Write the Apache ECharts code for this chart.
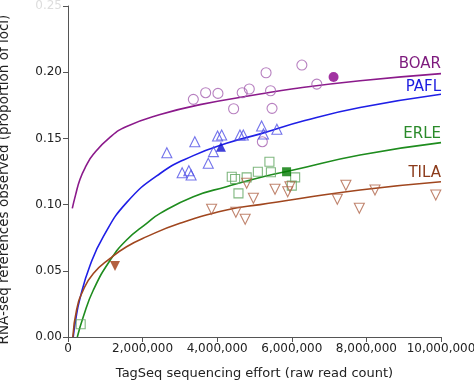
<!DOCTYPE html>
<html lang="en">
<head>
    <meta charset="utf-8" />
    <title>TagSeq rarefaction</title>
    <style>
        html, body { margin: 0; padding: 0; background: #fff; }
    </style>
</head>
<body>
    <div id="main" style="width:474px;height:389px;"></div>
    <script src="https://cdn.jsdelivr.net/npm/echarts@6/dist/echarts.min.js"></script>
    <script>
        // axis ticks
        var xTicks = [0, 2000000, 4000000, 6000000, 8000000, 10000000];
        var yTicks = [0, 0.05, 0.10, 0.15, 0.20, 0.25];

        // observed points (raw read count, proportion of loci)
        var boarPoints = [
            [3360000, 0.1795], [3690000, 0.1845], [4020000, 0.184], [4440000, 0.1724],
            [4670000, 0.1845], [4860000, 0.1873], [5310000, 0.1996], [6270000, 0.2054],
            [5430000, 0.186], [6670000, 0.191], [5470000, 0.1727], [5210000, 0.1475]
        ];
        var boarMean = [[7120000, 0.1964]];

        var paflPoints = [
            [2650000, 0.1392], [3400000, 0.1475], [4010000, 0.1518], [4120000, 0.1526],
            [3900000, 0.140], [3760000, 0.1312], [3060000, 0.1241], [3240000, 0.1256],
            [3300000, 0.1224], [4610000, 0.1526], [4700000, 0.1526], [5190000, 0.1594],
            [5240000, 0.1533], [5600000, 0.1569]
        ];
        var paflMean = [[4100000, 0.1437]];

        var erlePoints = [
            [340000, 0.0096], [4390000, 0.121], [4480000, 0.1193], [4790000, 0.1206],
            [4570000, 0.1085], [5090000, 0.1248], [5400000, 0.1324], [5440000, 0.1244],
            [6090000, 0.1206], [6000000, 0.1143]
        ];
        var erleMean = [[5860000, 0.1248]];

        var tilaPoints = [
            [3850000, 0.0965], [4500000, 0.0942], [4750000, 0.0889], [4790000, 0.1161],
            [4970000, 0.1048], [5550000, 0.1116], [5890000, 0.1097], [5950000, 0.1135],
            [7220000, 0.104], [7450000, 0.1146], [7810000, 0.0972], [8230000, 0.111],
            [9860000, 0.1073]
        ];
        var tilaMean = [[1260000, 0.0536]];

        // fitted curves
        var boarCurve = [
            [115000, 0.0972], [200000, 0.107], [320000, 0.119], [480000, 0.129], [680000, 0.138],
            [1130000, 0.151], [1570000, 0.159], [2470000, 0.168], [3540000, 0.1755],
            [5150000, 0.1835], [6040000, 0.1875], [7830000, 0.1935], [10000000, 0.1989]
        ];
        var paflCurve = [
            [140000, 0.0], [200000, 0.012], [320000, 0.029], [590000, 0.054], [950000, 0.076],
            [1570000, 0.1015], [2470000, 0.1235], [3360000, 0.137], [4250000, 0.1463],
            [5200000, 0.1538], [6350000, 0.1635], [7830000, 0.1733], [10000000, 0.1833]
        ];
        var erleCurve = [
            [250000, 0.0], [410000, 0.0153], [680000, 0.0355], [1130000, 0.058],
            [1570000, 0.0733], [2110000, 0.0859], [2470000, 0.0934], [3360000, 0.106],
            [4250000, 0.1135], [5150000, 0.1205], [6040000, 0.1261], [7830000, 0.1375],
            [10000000, 0.1468]
        ];
        var tilaCurve = [
            [130000, 0.0], [230000, 0.0204], [410000, 0.0355], [680000, 0.048],
            [1130000, 0.0594], [1570000, 0.0682], [2110000, 0.0758], [3000000, 0.0859],
            [4250000, 0.0959], [5150000, 0.100], [7830000, 0.111], [10000000, 0.1173]
        ];

        var groupNames = ['BOAR', 'PAFL', 'ERLE', 'TILA'];

        var myChart = echarts.init(document.getElementById('main'), null, { renderer: 'canvas' });

        function curveSeries(data, color) {
            return {
                type: 'line', data: data, showSymbol: false, smooth: 0.5,
                lineStyle: { color: color, width: 1.6 }, z: 2, silent: true
            };
        }
        function pointSeries(data, symbol, rotate, size, stroke, fill) {
            return {
                type: 'scatter', data: data, symbol: symbol, symbolRotate: rotate, symbolSize: size,
                itemStyle: { color: fill, borderColor: stroke, borderWidth: fill === 'transparent' ? 1.1 : 0 },
                z: 3, silent: true
            };
        }

        var option = {
            animation: false,
            backgroundColor: '#fff',
            grid: { left: 68, right: 33, top: 6, bottom: 52, outerBoundsMode: 'none', containLabel: false },
            xAxis: {
                type: 'value', min: xTicks[0], max: xTicks[xTicks.length - 1], interval: 2000000,
                name: 'TagSeq sequencing effort (raw read count)', nameLocation: 'middle', nameGap: 30,
                nameTextStyle: { fontFamily: 'DejaVu Sans', fontSize: 13, color: '#222' },
                axisLine: { lineStyle: { color: '#555', width: 1 } },
                axisTick: { length: 5, lineStyle: { color: '#555' } },
                axisLabel: {
                    fontFamily: 'DejaVu Sans', fontSize: 12, color: '#222', margin: 6,
                    formatter: function (v) { return v.toLocaleString('en-US'); }
                },
                splitLine: { show: false }
            },
            yAxis: {
                type: 'value', min: yTicks[0], max: yTicks[yTicks.length - 1], interval: 0.05,
                name: 'RNA-seq references observed (proportion of loci)', nameLocation: 'middle', nameGap: 57,
                nameTextStyle: { fontFamily: 'DejaVu Sans', fontSize: 13.5, color: '#222', padding: [0, 16, 0, 0] },
                axisLine: { show: true, lineStyle: { color: '#555', width: 1 } },
                axisTick: { show: true, length: 5, lineStyle: { color: '#555' } },
                axisLabel: {
                    fontFamily: 'DejaVu Sans', fontSize: 12, color: '#222', margin: 6,
                    formatter: function (v) {
                        return v >= 0.25 ? '{f|' + v.toFixed(2) + '}' : v.toFixed(2);
                    },
                    rich: { f: { color: '#ddd', fontFamily: 'DejaVu Sans', fontSize: 12 } }
                },
                splitLine: { show: false }
            },
            graphic: [
                { type: 'text', right: 33, top: 57, style: { text: groupNames[0], fill: '#7d1a7d', font: '15px "DejaVu Sans"' } },
                { type: 'text', right: 33, top: 80, style: { text: groupNames[1], fill: '#1c1ce0', font: '15px "DejaVu Sans"' } },
                { type: 'text', right: 33, top: 127, style: { text: groupNames[2], fill: '#2a8a2a', font: '15px "DejaVu Sans"' } },
                { type: 'text', right: 33, top: 166, style: { text: groupNames[3], fill: '#8b3a1a', font: '15px "DejaVu Sans"' } }
            ],
            series: [
                curveSeries(boarCurve, '#8b1a8b'),
                curveSeries(paflCurve, '#1f1fe6'),
                curveSeries(erleCurve, '#1e8c1e'),
                curveSeries(tilaCurve, '#a0461e'),
                pointSeries(boarPoints, 'circle', 0, 10, '#a560b0', 'transparent'),
                pointSeries(paflPoints, 'triangle', 0, 10, '#5050e6', 'transparent'),
                pointSeries(erlePoints, 'rect', 0, 9, '#5fa55f', 'transparent'),
                pointSeries(tilaPoints, 'triangle', 180, 10, '#b0654a', 'transparent'),
                pointSeries(boarMean, 'circle', 0, 10, '#8b008b', '#8b008b'),
                pointSeries(paflMean, 'triangle', 0, 10, '#1010d0', '#1010d0'),
                pointSeries(erleMean, 'rect', 0, 9, '#007800', '#007800'),
                pointSeries(tilaMean, 'triangle', 180, 10, '#a03a10', '#a03a10')
            ]
        };
        myChart.setOption(option);
    </script>
</body>
</html>
